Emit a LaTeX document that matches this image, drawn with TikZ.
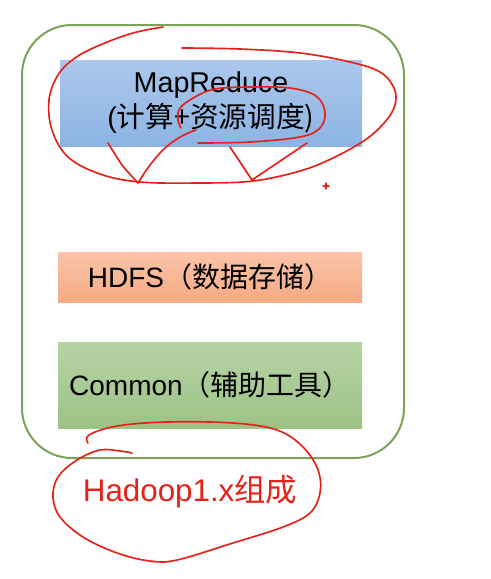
\documentclass[tikz,border=0pt]{standalone}
\usepackage{fontspec}
\setmainfont{Liberation Sans}
\newfontfamily\cjk{Noto Sans CJK SC}
\usetikzlibrary{positioning}

\definecolor{frame}{RGB}{122,163,88}
\definecolor{pen}{RGB}{228,34,24}
\definecolor{bluetop}{RGB}{172,199,236}
\definecolor{bluebot}{RGB}{140,180,227}
\definecolor{orangetop}{RGB}{250,196,170}
\definecolor{orangebot}{RGB}{245,170,130}
\definecolor{greentop}{RGB}{183,211,165}
\definecolor{greenbot}{RGB}{156,194,134}

\tikzset{
  layer/.style={inner sep=0pt, minimum width=228pt, text=black,
    font=\fontsize{21.5}{26.25}\selectfont, align=center},
  ink/.style={draw=pen, line width=1.25pt, line cap=round, line join=round}
}

\begin{document}
\begin{tikzpicture}[x=0.75pt, y=-0.75pt]
\useasboundingbox (0,0) rectangle (491,579);
% outer frame
\node[draw=frame, line width=1.5pt, rounded corners=37.5pt,
  minimum width=286.5pt, minimum height=324.75pt] (hadoop) at (213,241.5) {};
% layers
\node[layer, minimum width=226.5pt, minimum height=64.5pt,
  top color=bluetop, bottom color=bluebot] (mr) at (211,103)
  {MapReduce\\(\cjk{计算}+\cjk{资源调度})};
\node[layer, font=\fontsize{21}{26}\selectfont, minimum height=37.5pt,
  top color=orangetop, bottom color=orangebot] (hdfs) at (210,277)
  {HDFS\cjk{（数据存储）}};
\node[layer, font=\fontsize{21}{26}\selectfont, minimum height=64.5pt,
  top color=greentop, bottom color=greenbot] (common) at (210,385)
  {Common\cjk{（辅助工具）}};
\node[text=pen, font=\fontsize{23.5}{28}\selectfont] (title) at (190,492)
  {Hadoop1.x\cjk{组成}};
% red marks
\draw[ink] plot[smooth, tension=0.6] coordinates {(182,48) (240,49) (300,53)
  (350,62) (380,72) (394,88) (395,105) (385,122) (365,140) (333,158) (300,171)
  (253,181) (200,183) (140,182) (100,174) (68,157) (52,130) (49,100) (58,75)
  (75,58) (100,45) (133,33) (163,27)};
\draw[ink] plot[smooth, tension=0.6] coordinates {(198,143) (250,142) (300,137)
  (320,128) (325,112) (316,96) (290,88) (250,87) (215,89) (195,97) (180,108)
  (178,120) (181,128)};
\draw[ink] plot[smooth, tension=0.4] coordinates {(108,143) (122,165) (138,183)};
\draw[ink] plot[smooth, tension=0.6] coordinates {(138,183) (150,165) (165,148)
  (182,136) (196,130)};
\draw[ink] (230,147) -- (252,180) -- (307,143);
\draw[ink, line width=0.8pt] (323,186) -- (329,186) (326,183) -- (326,189);
\draw[ink] plot[smooth, tension=0.6] coordinates {(88,443) (89,435) (117,426)
  (167,422) (233,423) (277,430) (303,447) (318,470) (320,493) (310,513)
  (283,527) (233,543) (177,560) (150,561) (117,553) (83,537) (60,517) (53,497)
  (58,477) (77,460) (100,450) (120,451) (132,453)};
\end{tikzpicture}
\end{document}
